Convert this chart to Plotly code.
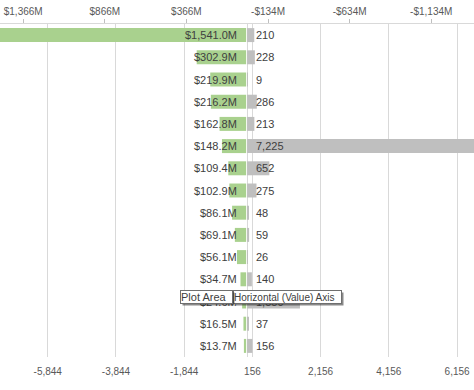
import plotly.graph_objects as go

# Data (top row first)
green_vals = [1541.0, 302.9, 219.9, 216.2, 162.8, 148.2, 109.4, 102.9, 86.1, 69.1, 56.1, 34.7, 24.6, 16.5, 13.7]
gray_vals = [210, 228, 9, 286, 213, 7225, 652, 275, 48, 59, 26, 140, 1550, 37, 156]
rows = list(range(len(green_vals)))

top_tickvals = [1366, 866, 366, -134, -634, -1134]
top_ticktext = ["$1,366M", "$866M", "$366M", "-$134M", "-$634M", "-$1,134M"]
bot_tickvals = [-5844, -3844, -1844, 156, 2156, 4156, 6156]
bot_ticktext = ["-5,844", "-3,844", "-1,844", "156", "2,156", "4,156", "6,156"]

GREEN = "#a9d18e"
GRAY = "#bfbfbf"
TXT = "#404040"
FONT = "Liberation Sans"

W, H = 474, 390
T, B = 24, 33
PH = H - T - B


def px_x(px):
    return px / W


def px_y(py):
    return (H - B - py) / PH


fig = go.Figure()
fig.add_trace(go.Bar(y=rows, x=green_vals, orientation="h", xaxis="x2", yaxis="y",
                     marker=dict(color=GREEN, line=dict(width=0)), width=0.63,
                     hoverinfo="skip", showlegend=False))
fig.add_trace(go.Bar(y=rows, x=gray_vals, orientation="h", xaxis="x", yaxis="y",
                     marker=dict(color=GRAY, line=dict(width=0)), width=0.63,
                     hoverinfo="skip", showlegend=False))

annotations = []
for r, g in zip(rows, green_vals):
    annotations.append(dict(x=0, y=r, xref="x2", yref="y", text=f"${g:,.1f}M",
                            xanchor="right", yanchor="middle", xshift=-7, showarrow=False,
                            font=dict(family=FONT, size=11, color=TXT)))
for r, v in zip(rows, gray_vals):
    annotations.append(dict(x=0, y=r, xref="x", yref="y", text=f"{v:,}",
                            xanchor="left", yanchor="middle", xshift=7, showarrow=False,
                            font=dict(family=FONT, size=11, color=TXT)))

# Tooltip overlays seen in the reference screenshot (shadows first, then boxes)
tips = [
    ("Horizontal (Value) Axis", 233, 342, 10),
    ("Plot Area", 180, 233, 11),
]
for txt, x0, x1, fs in tips:
    annotations.append(dict(x=px_x(x0), y=px_y(290), xref="paper", yref="paper", text=" ",
                            xanchor="left", yanchor="top", showarrow=False, xshift=2, yshift=-2,
                            width=x1 - x0 - 2, height=12, bgcolor="rgba(40,40,40,0.55)",
                            borderpad=0, borderwidth=1, bordercolor="rgba(0,0,0,0)",
                            font=dict(family=FONT, size=fs)))
    annotations.append(dict(x=px_x(x0), y=px_y(290), xref="paper", yref="paper", text=txt,
                            xanchor="left", yanchor="top", showarrow=False, align="left",
                            width=x1 - x0 - 2, height=12, bgcolor="white",
                            borderpad=0, borderwidth=1, bordercolor="#6f6f6f",
                            font=dict(family=FONT, size=fs, color=TXT)))

fig.update_layout(
    width=W, height=H,
    margin=dict(l=0, r=0, t=T, b=B),
    paper_bgcolor="white", plot_bgcolor="white",
    barmode="overlay",
    font=dict(family=FONT, size=10, color="#595959"),
    xaxis=dict(range=[-7244, 6652], tickvals=bot_tickvals, ticktext=bot_ticktext,
               showgrid=True, gridcolor="#d9d9d9", gridwidth=1,
               zeroline=True, zerolinecolor="#d9d9d9", zerolinewidth=1,
               showline=False, ticks="outside", ticklen=5, tickcolor="rgba(0,0,0,0)",
               tickfont=dict(family=FONT, size=10, color="#595959"), fixedrange=True,
               automargin=False),
    xaxis2=dict(range=[1508, -1396], overlaying="x", side="top",
                tickvals=top_tickvals, ticktext=top_ticktext,
                showgrid=False, zeroline=False, showline=True, linecolor="#d9d9d9", linewidth=1,
                ticks="outside", ticklen=4, tickcolor="#bfbfbf",
                tickfont=dict(family=FONT, size=10, color="#595959"), fixedrange=True,
                automargin=False),
    yaxis=dict(range=[14.5, -0.5], showticklabels=False, showgrid=False, zeroline=False,
               showline=False, ticks="", fixedrange=True, automargin=False),
    annotations=annotations,
)

fig.write_html("out.html", config={"displayModeBar": False},
               post_script="document.body.style.margin='0px';document.body.style.overflow='hidden';")
